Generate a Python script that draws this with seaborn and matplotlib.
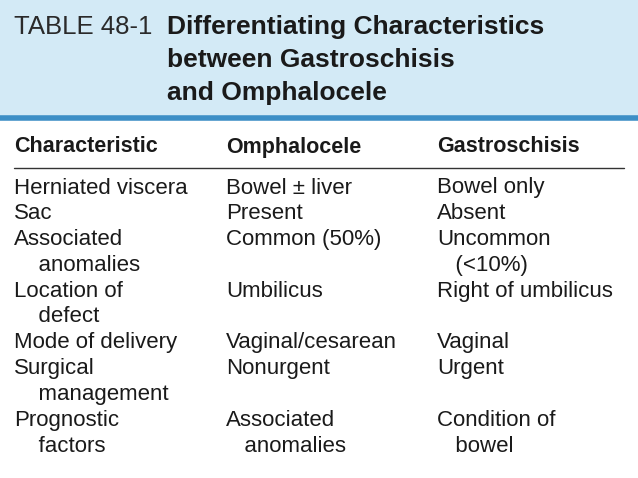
import matplotlib
matplotlib.use("Agg")
import matplotlib.pyplot as plt
import seaborn as sns

sns.set_theme(style="white")
plt.rcParams['font.family'] = ['Liberation Sans', 'DejaVu Sans']

table_label = "TABLE 48-1"
title_lines = ["Differentiating Characteristics", "between Gastroschisis", "and Omphalocele"]
columns = ["Characteristic", "Omphalocele", "Gastroschisis"]
col1 = ["Herniated viscera", "Sac", "Associated", "    anomalies", "Location of", "    defect",
        "Mode of delivery", "Surgical", "    management", "Prognostic", "    factors"]
col2 = ["Bowel \u00b1 liver", "Present", "Common (50%)", "", "Umbilicus", "",
        "Vaginal/cesarean", "Nonurgent", "", "Associated", "   anomalies"]
col3 = ["Bowel only", "Absent", "Uncommon", "   (<10%)", "Right of umbilicus", "",
        "Vaginal", "Urgent", "", "Condition of", "   bowel"]

W, H = 638, 478
fig = plt.figure(figsize=(W/100, H/100), dpi=100)
ax = fig.add_axes([0, 0, 1, 1])
ax.set_xlim(0, W); ax.set_ylim(H, 0); ax.axis("off")

ax.axhspan(0, 115, color="#d3eaf6", zorder=0)
ax.axhline(118, color="#3d8fc6", lw=4)
ax.plot([14, 624], [168, 168], color="#333333", lw=1)

txt = "#1a1a1a"
ax.text(14, 27, table_label, fontsize=18.5, color="#2a2a2a", va="center",
        family=["Liberation Sans Narrow", "Liberation Sans"])
for i, t in enumerate(title_lines):
    ax.text(167, 27 + i*33, t, fontsize=19, fontweight="bold", color=txt, va="center")

xs = [14, 226, 437]
for x, c in zip(xs, columns):
    ax.text(x, 147, c, fontsize=15.5, fontweight="bold", color=txt, va="center")
for i, (a, b, c) in enumerate(zip(col1, col2, col3)):
    y = 188 + i*25.8
    for x, t in zip(xs, (a, b, c)):
        ax.text(x, y, t, fontsize=16, color=txt, va="center")

fig.savefig("out.png", dpi=100)
